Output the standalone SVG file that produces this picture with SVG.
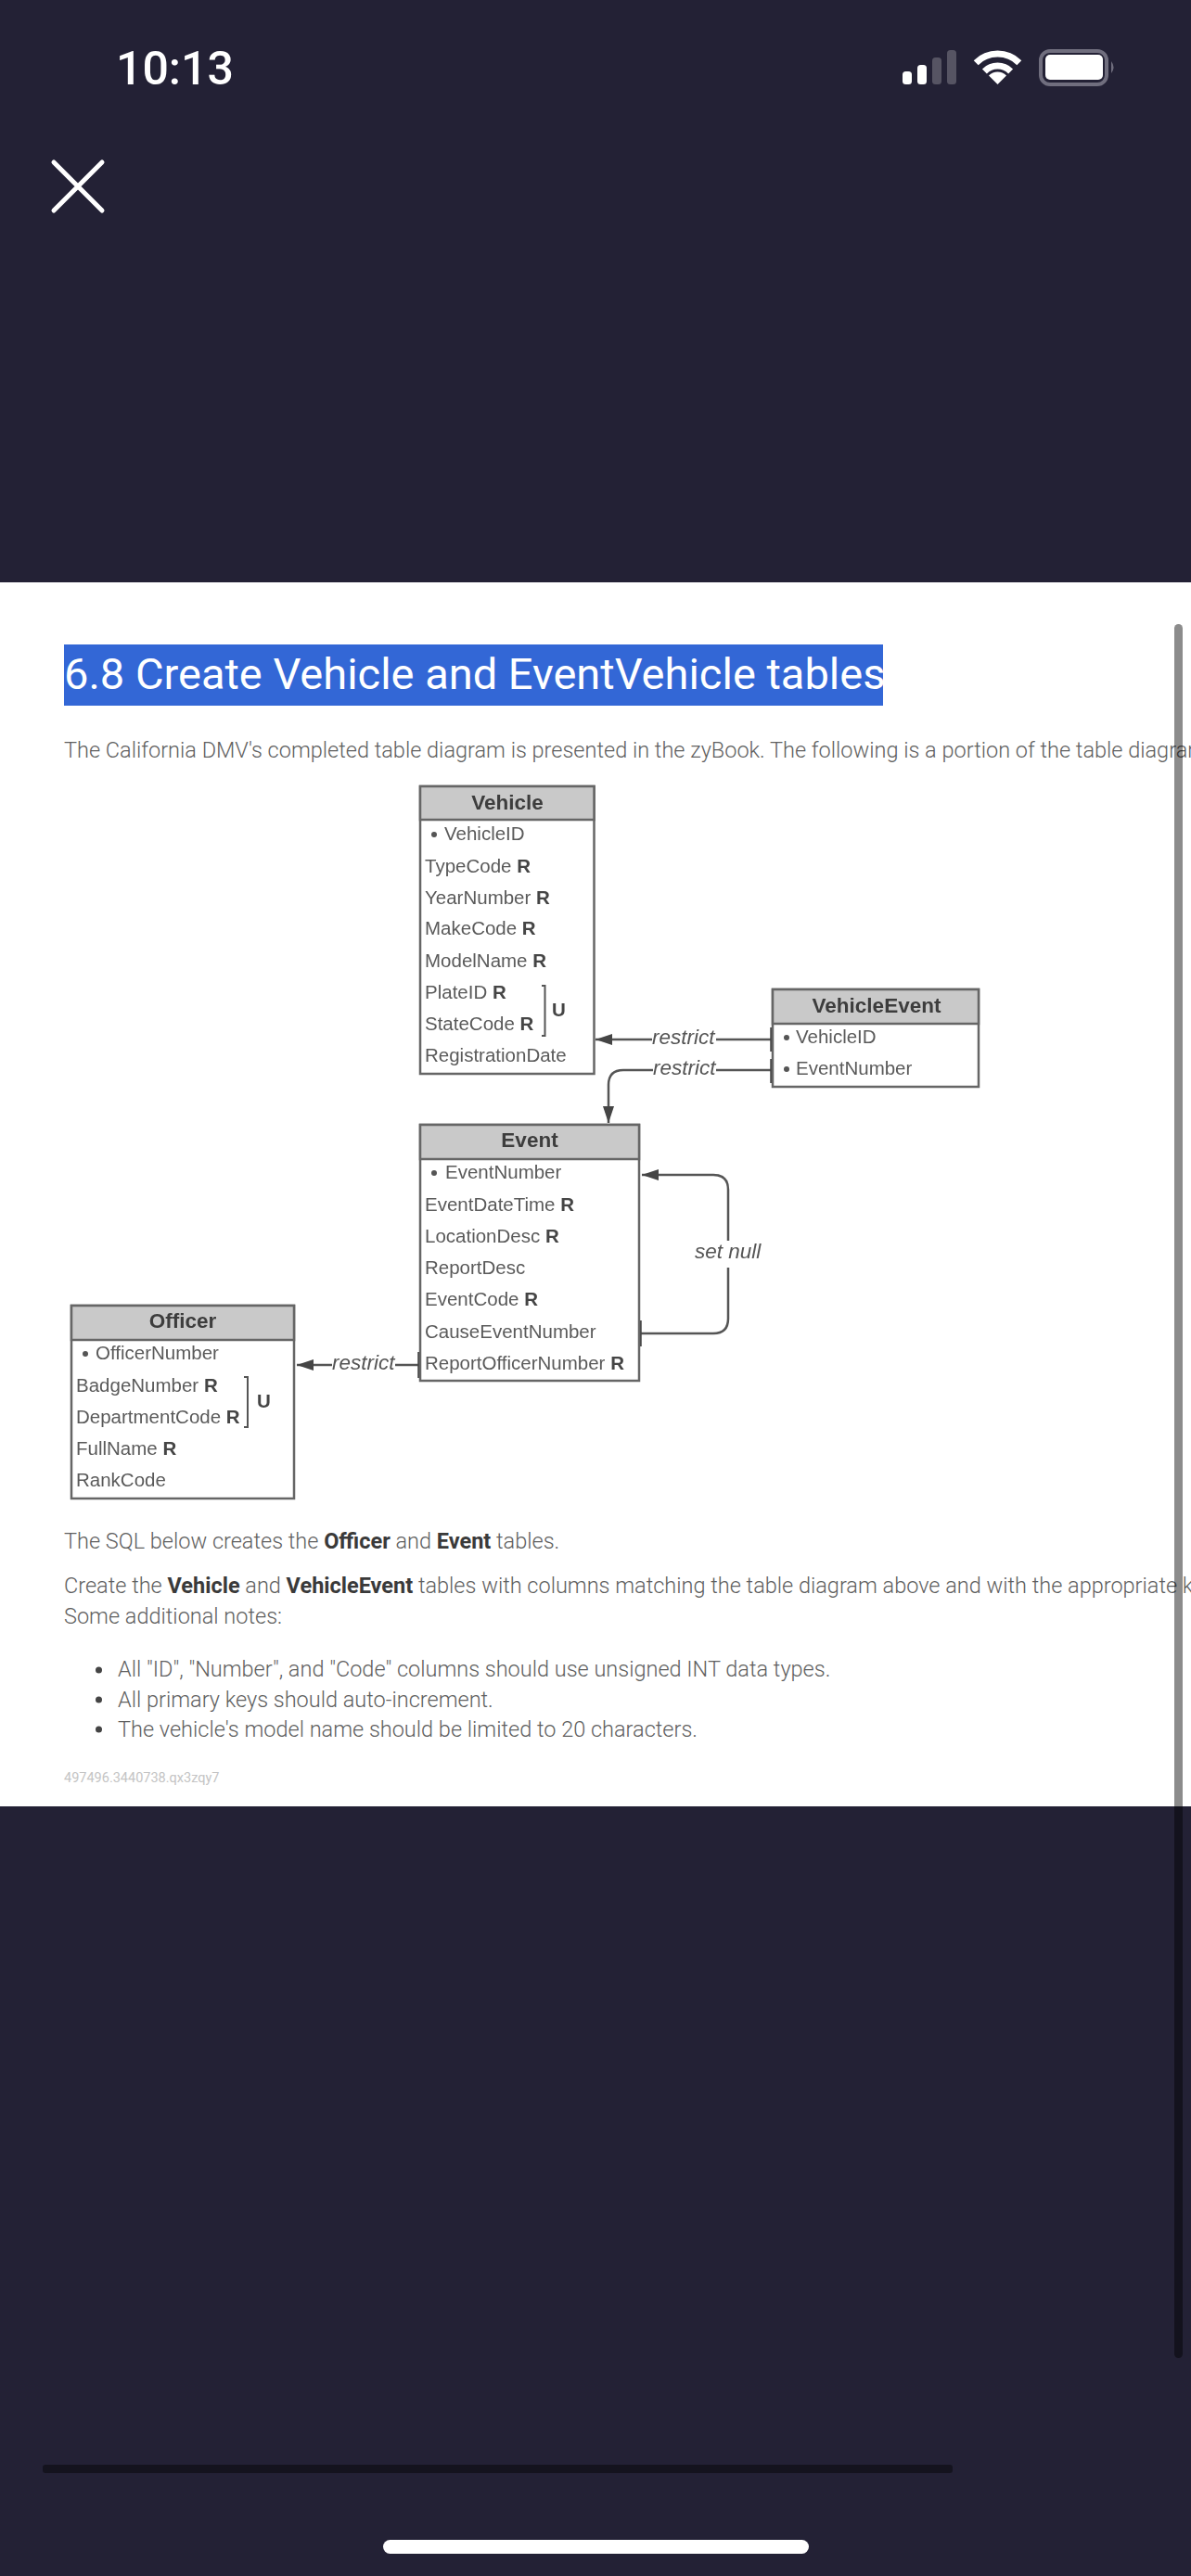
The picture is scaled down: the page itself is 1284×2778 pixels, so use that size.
<svg xmlns="http://www.w3.org/2000/svg" width="1284" height="2778" viewBox="0 0 1284 2778">
<defs>
<style>
.ui{font-family:Roboto,"Liberation Sans",sans-serif}
.body{font-family:Roboto,"Liberation Sans",sans-serif;font-weight:300;font-size:23.5px;fill:#5f5f5f}
.body .b{font-weight:700;fill:#3a3a3a}
.t{font-family:"Liberation Sans",Arial,sans-serif;font-size:20.500px;fill:#5a5a5a}
.t .b{font-weight:700;fill:#444}
.h{font-family:"Liberation Sans",Arial,sans-serif;font-size:22.500px;font-weight:700;fill:#3c3c3c;text-anchor:middle}
.l{font-family:"Liberation Sans",Arial,sans-serif;font-size:22.500px;font-style:italic;fill:#555}
.box{fill:#fff;stroke:#666;stroke-width:2.5}
.head{fill:#c9c9c9;stroke:#666;stroke-width:2.5}
.c{fill:none;stroke:#555;stroke-width:2.5}
.bar{fill:none;stroke:#444;stroke-width:3.5}
.br{fill:none;stroke:#555;stroke-width:2}
</style>
<marker id="arrow" markerUnits="userSpaceOnUse" markerWidth="20" markerHeight="14" refX="18" refY="6" orient="auto"><path d="M0 0L18 6L0 12Z" fill="#444"/></marker>
<filter id="soft" x="-2%" y="-2%" width="104%" height="104%"><feGaussianBlur stdDeviation="0.7"/></filter>
</defs>
<rect width="1284" height="2778" fill="#232135"/>
<g id="status-bar">
<text class="ui" x="125" y="91" font-size="50" fill="#fff" font-weight="500">10:13</text>
<g fill="#fff"><rect x="973" y="77" width="10" height="14" rx="3.500"/><rect x="989" y="70" width="10" height="21" rx="3.500"/></g>
<g fill="#565463"><rect x="1005" y="62" width="10" height="29" rx="3.500"/><rect x="1021" y="54" width="10" height="37" rx="3.500"/></g>
<g fill="none" stroke="#fff" stroke-width="7"><path d="M1052.200 67.700A33 33 0 0 1 1098.800 67.700"/><path d="M1061.400 76.900A20 20 0 0 1 1089.600 76.900"/></g>
<path d="M1075.500 91L1066 81.500A13.400 13.400 0 0 1 1085 81.500Z" fill="#fff"/>
<rect x="1122" y="55" width="71" height="36" rx="10" fill="none" stroke="#706e7e" stroke-width="4"/>
<rect x="1127" y="59" width="62" height="27" rx="5" fill="#fff"/>
<path d="M1198 66Q1203 72.500 1198 79Z" fill="#706e7e"/>
</g>
<path id="close" d="M58 175L110 227M110 175L58 227" stroke="#fff" stroke-width="5" stroke-linecap="round" fill="none"/>
<rect x="0" y="628" width="1284" height="1320" fill="#fff"/>
<rect x="69" y="695" width="883" height="66" fill="#3367d6"/>
<text class="ui" x="69" y="743" font-size="47" fill="#fff">6.8 Create Vehicle and EventVehicle tables</text>
<text class="body" x="69" y="817">The California DMV's completed table diagram is presented in the zyBook. The following is a portion of the table diagram</text>
<g filter="url(#soft)">
<g id="connectors">
<path class="c" d="M832 1121H772M703 1121H642" marker-end="url(#arrow)"/>
<path class="c" d="M832 1154H772M704 1154H672Q656 1154 656 1170V1211" marker-end="url(#arrow)"/>
<path class="c" d="M690 1438H769Q785 1438 785 1422V1367M785 1338V1283Q785 1267 769 1267H692" marker-end="url(#arrow)"/>
<path class="c" d="M452 1472H426M358 1472H320" marker-end="url(#arrow)"/>
<path class="bar" d="M832 1108V1134M832 1142V1168M690 1424V1452M452 1458V1486"/>
</g>
<g id="vehicle">
<rect class="box" x="453" y="848" width="187.500" height="310"/>
<rect class="head" x="453" y="848" width="187.500" height="36"/>
<text class="h" x="547" y="873">Vehicle</text>
<circle cx="468" cy="900" r="3" fill="#555"/>
<text class="t" x="479" y="906">VehicleID</text>
<text class="t" x="458" y="941">TypeCode <tspan class="b">R</tspan></text>
<text class="t" x="458" y="975">YearNumber <tspan class="b">R</tspan></text>
<text class="t" x="458" y="1008">MakeCode <tspan class="b">R</tspan></text>
<text class="t" x="458" y="1043">ModelName <tspan class="b">R</tspan></text>
<text class="t" x="458" y="1077">PlateID <tspan class="b">R</tspan></text>
<text class="t" x="458" y="1111">StateCode <tspan class="b">R</tspan></text>
<text class="t" x="458" y="1145">RegistrationDate</text>
<path class="br" d="M584 1063H587.500V1117H584"/>
<text class="t" x="595" y="1096"><tspan class="b">U</tspan></text>
</g>
<g id="vehicleevent">
<rect class="box" x="833" y="1067" width="222" height="105"/>
<rect class="head" x="833" y="1067" width="222" height="37"/>
<text class="h" x="945" y="1092">VehicleEvent</text>
<circle cx="848" cy="1119" r="3" fill="#555"/>
<text class="t" x="858" y="1125">VehicleID</text>
<circle cx="848" cy="1153" r="3" fill="#555"/>
<text class="t" x="858" y="1159">EventNumber</text>
</g>
<g id="event">
<rect class="box" x="453" y="1213" width="236" height="276"/>
<rect class="head" x="453" y="1213" width="236" height="37"/>
<text class="h" x="571" y="1237">Event</text>
<circle cx="468" cy="1265" r="3" fill="#555"/>
<text class="t" x="480" y="1271">EventNumber</text>
<text class="t" x="458" y="1306">EventDateTime <tspan class="b">R</tspan></text>
<text class="t" x="458" y="1340">LocationDesc <tspan class="b">R</tspan></text>
<text class="t" x="458" y="1374">ReportDesc</text>
<text class="t" x="458" y="1408">EventCode <tspan class="b">R</tspan></text>
<text class="t" x="458" y="1443">CauseEventNumber</text>
<text class="t" x="458" y="1477">ReportOfficerNumber <tspan class="b">R</tspan></text>
</g>
<g id="officer">
<rect class="box" x="77" y="1408" width="240" height="208"/>
<rect class="head" x="77" y="1408" width="240" height="37"/>
<text class="h" x="197" y="1432">Officer</text>
<circle cx="92" cy="1460" r="3" fill="#555"/>
<text class="t" x="103" y="1466">OfficerNumber</text>
<text class="t" x="82" y="1501">BadgeNumber <tspan class="b">R</tspan></text>
<text class="t" x="82" y="1535">DepartmentCode <tspan class="b">R</tspan></text>
<text class="t" x="82" y="1569">FullName <tspan class="b">R</tspan></text>
<text class="t" x="82" y="1603">RankCode</text>
<path class="br" d="M263 1485H267V1539H263"/>
<text class="t" x="277" y="1518"><tspan class="b">U</tspan></text>
</g>
<g id="labels">
<text class="l" x="703" y="1126">restrict</text>
<text class="l" x="704" y="1159">restrict</text>
<text class="l" x="749" y="1357">set null</text>
<text class="l" x="358" y="1477">restrict</text>
</g>
</g>
<text class="body" x="69" y="1670">The SQL below creates the <tspan class="b">Officer</tspan> and <tspan class="b">Event</tspan> tables.</text>
<text class="body" x="69" y="1718">Create the <tspan class="b">Vehicle</tspan> and <tspan class="b">VehicleEvent</tspan> tables with columns matching the table diagram above and with the appropriate k</text>
<text class="body" x="69" y="1751">Some additional notes:</text>
<g fill="#444"><circle cx="106.500" cy="1801" r="3.500"/><circle cx="106.500" cy="1833" r="3.500"/><circle cx="106.500" cy="1865" r="3.500"/></g>
<text class="body" x="127" y="1808">All "ID", "Number", and "Code" columns should use unsigned INT data types.</text>
<text class="body" x="127" y="1841">All primary keys should auto-increment.</text>
<text class="body" x="127" y="1873">The vehicle's model name should be limited to 20 characters.</text>
<text class="ui" x="69" y="1922" font-size="14.500" fill="#c4c4c4">497496.3440738.qx3zqy7</text>
<rect id="scrollbar" x="1266" y="673" width="9" height="1870" rx="4.500" fill="#000" fill-opacity="0.45"/>
<rect x="46" y="2658" width="981" height="9" rx="3" fill="#14131e"/>
<rect x="413" y="2739" width="459" height="15" rx="7.500" fill="#fff"/>
</svg>
